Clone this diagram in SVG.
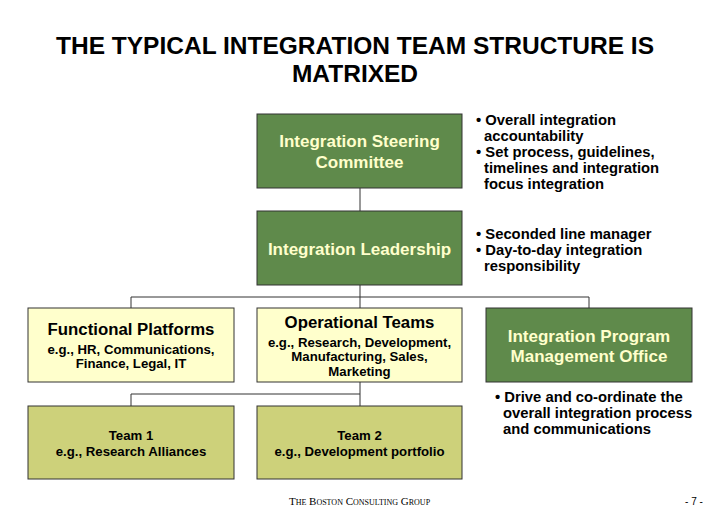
<svg xmlns="http://www.w3.org/2000/svg" width="720" height="514" viewBox="0 0 720 514">
<style>
text{font-family:"Liberation Sans",Arial,sans-serif;font-weight:bold}
.title{font-size:24.5px;fill:#000;text-anchor:middle}
.dg{fill:#5f8a4b;stroke:#333;stroke-width:1}
.ly{fill:#ffffcc;stroke:#333;stroke-width:1}
.ol{fill:#cdd17a;stroke:#333;stroke-width:1}
.wt{fill:#ffffcc;font-size:17px;text-anchor:middle}
.bt{fill:#000;text-anchor:middle}
.h{font-size:16.8px}
.s{font-size:13.2px}
.bl{fill:#000;font-size:14.8px}
.conn{fill:none;stroke:#333;stroke-width:1}
.foot{font-family:"Liberation Serif","Times New Roman",serif;font-weight:normal;font-size:10px;fill:#000}
</style>
<rect width="720" height="514" fill="#fff"/>
<text class="title" x="355" y="54">THE TYPICAL INTEGRATION TEAM STRUCTURE IS</text>
<text class="title" x="355" y="82">MATRIXED</text>

<g id="connectors">
<path class="conn" d="M360 188V211M360 285V308M131 297H589M131 297V308M589 297V308M360 382V406M131 394H360M131 394V406"/>
</g>

<g id="steering">
<rect class="dg" x="257" y="114" width="205" height="74"/>
<text class="wt" x="359.5" y="147">Integration Steering</text>
<text class="wt" x="359.5" y="168">Committee</text>
</g>
<g id="leadership">
<rect class="dg" x="257" y="211" width="205" height="74"/>
<text class="wt" x="359.5" y="255">Integration Leadership</text>
</g>
<g id="functional">
<rect class="ly" x="28" y="308" width="206" height="74"/>
<text class="bt h" x="131" y="335">Functional Platforms</text>
<text class="bt s" x="131" y="354">e.g., HR, Communications,</text>
<text class="bt s" x="131" y="368">Finance, Legal, IT</text>
</g>
<g id="operational">
<rect class="ly" x="257" y="308" width="205" height="74"/>
<text class="bt h" x="359.5" y="328">Operational Teams</text>
<text class="bt s" x="359.5" y="347">e.g., Research, Development,</text>
<text class="bt s" x="359.5" y="361">Manufacturing, Sales,</text>
<text class="bt s" x="359.5" y="376">Marketing</text>
</g>
<g id="ipmo">
<rect class="dg" x="486" y="308" width="206" height="74"/>
<text class="wt" x="589" y="342">Integration Program</text>
<text class="wt" x="589" y="362">Management Office</text>
</g>
<g id="team1">
<rect class="ol" x="28" y="406" width="206" height="73"/>
<text class="bt s" x="131" y="440">Team 1</text>
<text class="bt s" x="131" y="456">e.g., Research Alliances</text>
</g>
<g id="team2">
<rect class="ol" x="257" y="406" width="205" height="73"/>
<text class="bt s" x="359.5" y="440">Team 2</text>
<text class="bt s" x="359.5" y="456">e.g., Development portfolio</text>
</g>

<g id="notes-steering">
<text class="bl" x="476" y="125">• Overall integration</text>
<text class="bl" x="484" y="141">accountability</text>
<text class="bl" x="476" y="157">• Set process, guidelines,</text>
<text class="bl" x="484" y="173">timelines and integration</text>
<text class="bl" x="484" y="189">focus integration</text>
</g>
<g id="notes-leadership">
<text class="bl" x="476" y="239">• Seconded line manager</text>
<text class="bl" x="476" y="255">• Day-to-day integration</text>
<text class="bl" x="484" y="271">responsibility</text>
</g>
<g id="notes-ipmo">
<text class="bl" x="495" y="402">• Drive and co-ordinate the</text>
<text class="bl" x="503" y="418">overall integration process</text>
<text class="bl" x="503" y="434">and communications</text>
</g>

<text class="foot" x="359.5" y="505" text-anchor="middle" style="font-variant:small-caps;font-size:11px">The Boston Consulting Group</text>
<text class="foot" x="694" y="505" text-anchor="middle" style="font-family:'Liberation Sans',Arial,sans-serif;font-size:10px">- 7 -</text>
</svg>
